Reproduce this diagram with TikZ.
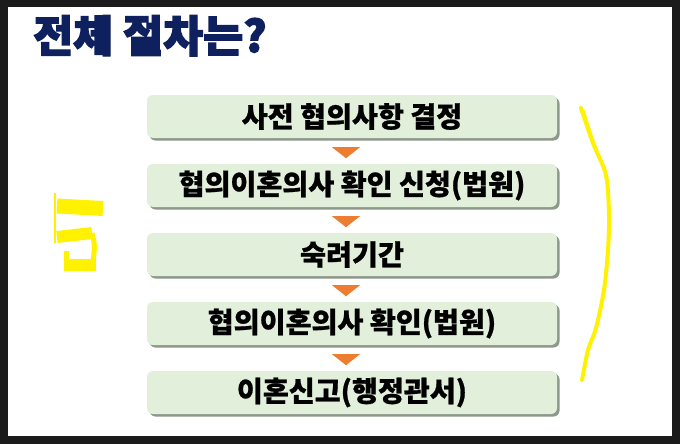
\documentclass[tikz,border=0pt]{standalone}
\usepackage{fontspec}
\newfontfamily\kofont{Noto Sans CJK KR}[FakeBold=0.8]
\newfontfamily\kotitle{Noto Sans CJK KR}[FakeBold=3]
\usetikzlibrary{calc,shadows}
\definecolor{navy}{RGB}{14,33,94}
\definecolor{boxgreen}{RGB}{226,239,218}
\definecolor{boxedge}{RGB}{140,152,137}
\definecolor{arroworange}{RGB}{237,125,49}
\definecolor{marker}{RGB}{255,242,0}
\definecolor{frame}{RGB}{27,27,27}
\begin{document}
\begin{tikzpicture}[x=1pt, y=-1pt,
  stepbox/.style={fill=boxgreen, rounded corners=6pt, minimum width=410pt, minimum height=43pt, inner sep=0pt,
    font=\kofont\bfseries\fontsize{28.2}{28.2}\selectfont,
    drop shadow={shadow xshift=2.5pt, shadow yshift=-2.5pt, fill=boxedge, opacity=1}},
  tri/.style={fill=arroworange},
  titletext/.style={anchor=base west, inner sep=0pt, font=\kotitle\bfseries\fontsize{43.5}{43.5}\selectfont}]
\useasboundingbox (0,0) rectangle (680,444);
\fill[frame] (0,0) rectangle (680,444);
\fill[white] (8,7) rectangle (672,436);

\node[titletext, text=navy] (title) at (33,52) {전체 절차는?};

\node[stepbox] (consult) at (352,116.5) {사전 협의사항 결정};
\node[stepbox] (apply) at (352,185.5) {협의이혼의사 확인 신청(법원)};
\node[stepbox] (wait) at (352,254.5) {숙려기간};
\node[stepbox] (confirm) at (352,323.5) {협의이혼의사 확인(법원)};
\node[stepbox] (report) at (352,392.5) {이혼신고(행정관서)};

\fill[tri] ($(consult.south)+(-20,9)$) -- ++(28,0) -- ++(-14,11) -- cycle;
\fill[tri] ($(apply.south)+(-20,9)$) -- ++(28,0) -- ++(-14,11) -- cycle;
\fill[tri] ($(wait.south)+(-20,9)$) -- ++(28,0) -- ++(-14,11) -- cycle;
\fill[tri] ($(confirm.south)+(-20,9)$) -- ++(28,0) -- ++(-14,11) -- cycle;

% yellow marker: 5
\draw[marker, line width=1.8pt] (55,193) -- (55,243);
\draw[marker, line width=15pt] (57,206) -- (103,208.5);
\draw[marker, line width=12pt] (57,237) -- (92,233);
\draw[marker, line width=5pt] (92,233) .. controls (95,245) .. (93,262);
\draw[marker, line width=12pt] (96,265) -- (64,265);
\draw[marker, line width=5pt] (66,251) -- (66,270);

% yellow marker: bracket
\draw[marker, line width=4pt, line cap=round] plot[smooth] coordinates {(581,108) (593,143) (606,175) (609,215) (608,250) (604,290) (596,328) (588,350) (582,380)};
\draw[marker, line width=3pt] plot[smooth] coordinates {(583,110) (592,138) (600,160)};
\end{tikzpicture}
\end{document}
